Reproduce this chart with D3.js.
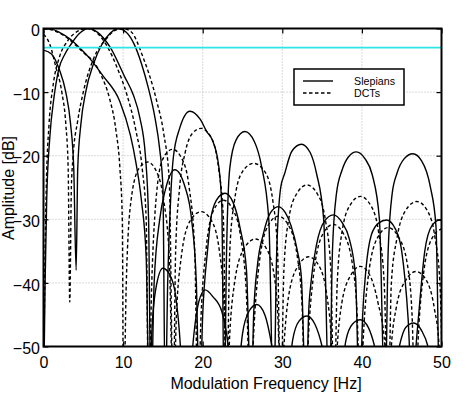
<!DOCTYPE html>
<meta charset="utf-8">
<script src="https://d3js.org/d3.v7.min.js"></script>
<style>
body { margin: 0; background: #fff; }
text { font-family: Arial, "Liberation Sans", Helvetica, sans-serif; fill: #000; }
</style>
<div id="my_dataviz"></div>
<script>

// frequency responses, [frequency Hz, amplitude dB]
var slepian0 = [[0,0],[1,-0.1],[2,-0.6],[3.5,-1.8],[4.5,-3],[5.8,-4.7],[7.5,-7.5],[9.6,-11.5],[10.9,-16.7],[11.6,-21],[12.3,-27],[12.9,-36],[13.3,-60],
  [13.6,-48],[14.1,-41],[15,-37.7],[15.9,-38.8],[16.6,-42],[17.2,-50],[17.6,-60],
  [18.4,-55],[18.9,-48],[19.5,-43],[20.3,-41.1],[21.3,-42.2],[22.4,-44.5],[23.2,-50],[23.8,-60],
  [24.4,-55],[25,-48],[25.8,-44.5],[26.8,-43.4],[27.8,-45],[28.7,-50],[29.8,-60],
  [30.7,-55],[31.3,-49],[32.1,-46],[33.1,-45.2],[34.1,-46.5],[35,-50],[36.3,-60],
  [37.3,-55],[38,-49],[38.8,-46.5],[39.8,-45.8],[40.8,-47],[41.6,-50],[43,-60],
  [44,-55],[44.7,-50],[45.5,-47],[46.5,-46.3],[47.5,-47.5],[48.3,-50],[49.5,-60]];

var slepian1 = [[0,-60],[0.2,-40],[0.4,-27],[0.8,-17],[1.3,-11],[1.9,-6.5],[2.7,-4],[3.5,-2.4],[4.5,-0.8],[5.6,0],[6.8,-0.6],[8.35,-2.9],[10.2,-7.6],[11.3,-10.5],[12.1,-14],[12.8,-20],[13.2,-30],[13.5,-60],
  [13.9,-40],[14.6,-30],[15.3,-25.4],[16.5,-22.2],[17.8,-25],[18.6,-30],[19.2,-40],[19.6,-60],
  [20,-45],[20.6,-35],[21.1,-29.3],[22,-26.5],[22.8,-25.9],[23.8,-27.3],[24.7,-31.4],[25.5,-38],[26.1,-60],
  [26.4,-45],[26.9,-37],[27.6,-32.4],[28.5,-29],[29.5,-28],[30.4,-29],[31.1,-31],[31.9,-35],[32.4,-39.2],[33,-60],
  [33.3,-45],[33.6,-40],[34.3,-34],[35.3,-30.3],[36.4,-29.3],[37.5,-30.5],[38.4,-33],[39.2,-39],[39.7,-60],
  [40.1,-45],[40.5,-38],[41.2,-32.4],[42.1,-30.6],[43.1,-30.1],[44.2,-31.5],[45,-35],[45.8,-45.5],[46.4,-60],
  [46.8,-50],[47.1,-45.5],[47.9,-35],[48.8,-31],[49.8,-30.1],[50.5,-31]];

var slepian2 = [[0,-3.4],[1,-4],[2,-6.5],[2.8,-10],[3.4,-15],[3.8,-22],[4.1,-38],[4.3,-22],[4.7,-15],[5.3,-10],[6.3,-5.5],[7.3,-2.6],[8.4,-0.7],[9.4,0],[10.4,-0.6],[11.4,-2.5],[12.3,-5.5],[13.2,-9.5],[14,-14],[14.6,-19],[15,-25],[15.3,-60],
  [15.6,-40],[16,-26],[16.3,-20.4],[17.1,-15.7],[18.4,-13],[19.7,-14.3],[20.5,-16.2],[21.2,-17.5],[22,-21.5],[22.4,-28],[22.7,-60],
  [23,-35],[23.4,-22],[24.2,-17.5],[25.3,-16.2],[26.5,-17.8],[27.4,-21.7],[28.3,-30],[28.9,-60],
  [29.3,-35],[29.8,-25],[30.3,-22.8],[31.2,-19.3],[32.4,-18.2],[33.5,-19.5],[34.3,-22.8],[35.2,-30],[35.9,-60],
  [36.3,-35],[36.8,-26],[37.5,-22.3],[38.3,-20.2],[39.3,-19.4],[40.4,-20.5],[41.3,-23],[42.2,-30],[42.9,-60],
  [43.3,-35],[43.8,-26],[44.4,-22.8],[45.3,-20.5],[46.4,-19.7],[47.5,-20.8],[48.6,-24.9],[49.3,-31],[49.7,-60]];

var dct0 = [[0,0],[1,-0.2],[2,-0.7],[3,-1.5],[4.2,-2.8],[5.2,-4],[6.3,-5.2],[7.3,-7.5],[8.3,-11],[9.1,-16],[9.6,-22],[9.9,-30],[10.05,-60],
  [10.4,-40],[11,-27],[12,-22],[13.1,-21],[14.2,-22.5],[15.1,-27],[15.8,-36],[16.3,-60],
  [16.7,-45],[17.3,-36],[18.4,-30.3],[19.8,-28.8],[21.1,-30.2],[22.1,-35],[22.7,-44],[23,-60],
  [23.4,-48],[24,-40],[25.2,-34.6],[26.6,-33.1],[28,-34.6],[29,-39],[29.5,-47],[29.8,-60],
  [30.2,-50],[30.8,-42],[32,-37.3],[33.3,-35.9],[34.6,-37.3],[35.6,-42],[36.2,-50],[36.5,-60],
  [36.9,-50],[37.5,-43],[38.6,-38.8],[39.8,-37.4],[41,-38.8],[42,-43],[42.9,-50],[43.3,-60],
  [43.7,-50],[44.3,-44],[45.5,-39.6],[46.8,-38.2],[48.1,-39.6],[49.1,-44],[49.7,-50],[50,-60]];

var dct1 = [[0,-60],[0.15,-40],[0.35,-25],[0.7,-15],[1.2,-9],[2,-4.5],[3,-2],[4.2,-0.5],[5.5,0],[6.8,-0.8],[8,-2.8],[9.2,-6],[10.5,-10.5],[11.6,-16],[12.4,-22],[12.9,-30],[13.2,-60],
  [13.6,-40],[14.2,-26],[15,-20.5],[16.2,-19],[17.4,-20.5],[18.3,-25],[19,-35],[19.4,-60],
  [19.8,-45],[20.4,-35],[21.4,-28.5],[22.6,-27],[23.8,-28.5],[24.8,-33],[25.5,-42],[26,-60],
  [26.4,-48],[27,-38],[28.2,-31],[29.5,-29.5],[30.8,-31],[31.9,-36],[32.5,-44],[32.9,-60],
  [33.3,-48],[33.9,-39],[35.1,-32.3],[36.4,-30.8],[37.7,-32.3],[38.8,-37],[39.4,-45],[39.8,-60],
  [40.2,-48],[40.8,-39],[42,-32.8],[43.3,-31.3],[44.6,-32.8],[45.7,-37],[46.3,-45],[46.7,-60],
  [47.1,-48],[47.7,-39],[48.8,-33],[50,-31.5]];

var dct2 = [[0,-0.9],[0.8,-2.5],[1.5,-5.8],[2.3,-10],[2.8,-15],[3.1,-22],[3.3,-43],[3.5,-25],[3.7,-20.4],[4.3,-14.5],[5,-10],[6.3,-4.7],[7.9,-1.6],[9,-0.3],[10,0],[11,-0.5],[12.5,-4.5],[14.2,-11.3],[15.1,-16.5],[15.8,-24],[16.3,-60],
  [16.6,-35],[17.1,-25],[17.8,-19.5],[18.7,-16.5],[19.8,-15.7],[21,-17],[22,-22],[22.6,-30],[23,-60],
  [23.4,-35],[24,-27],[25,-22.5],[26.4,-21.2],[27.8,-22.5],[28.8,-27],[29.4,-35],[29.8,-60],
  [30.2,-38],[30.8,-30],[31.8,-26],[33.1,-24.6],[34.4,-26],[35.4,-30],[36.1,-38],[36.5,-60],
  [36.9,-40],[37.5,-32],[38.5,-27.8],[39.8,-26.4],[41.1,-27.8],[42.1,-32],[42.8,-40],[43.3,-60],
  [43.7,-40],[44.4,-33],[45.5,-28.6],[46.9,-27.2],[48.2,-28.6],[49.2,-33],[49.8,-40],[50.2,-60]];

var xTicks = [0, 10, 20, 30, 40, 50];
var yTicks = [-50, -40, -30, -20, -10, 0];
var cutoffDb = -3;
var legendLabels = ["Slepians", "DCTs"];

var margin = {top: 28.5, right: 32.5, bottom: 48.5, left: 43.5},
    width = 474 - margin.left - margin.right,
    height = 395 - margin.top - margin.bottom;

var svg = d3.select("#my_dataviz")
  .append("svg")
    .attr("width", 474)
    .attr("height", 395)
  .append("g")
    .attr("transform", "translate(" + margin.left + "," + margin.top + ")");

var x = d3.scaleLinear().domain([0, 50]).range([0, width]);
var y = d3.scaleLinear().domain([-50, 0]).range([height, 0]);

svg.append("clipPath").attr("id", "plotclip")
  .append("rect").attr("width", width).attr("height", height);

// dotted grid
svg.selectAll(".vgrid").data(xTicks.slice(1, -1)).enter().append("line")
  .attr("x1", function(d){ return x(d); }).attr("x2", function(d){ return x(d); })
  .attr("y1", 0).attr("y2", height)
  .attr("stroke", "#b4b4b4").attr("stroke-dasharray", "1,2");
svg.selectAll(".hgrid").data(yTicks.slice(1, -1)).enter().append("line")
  .attr("y1", function(d){ return y(d); }).attr("y2", function(d){ return y(d); })
  .attr("x1", 0).attr("x2", width)
  .attr("stroke", "#b4b4b4").attr("stroke-dasharray", "1,2");

// curves
var line = d3.line()
  .x(function(d){ return x(d[0]); })
  .y(function(d){ return y(d[1]); })
  .curve(d3.curveMonotoneX);

var curves = [
  {data: slepian0, dash: null}, {data: slepian1, dash: null}, {data: slepian2, dash: null},
  {data: dct0, dash: "3.5,2.5"}, {data: dct1, dash: "3.5,2.5"}, {data: dct2, dash: "3.5,2.5"}
];
var plot = svg.append("g").attr("clip-path", "url(#plotclip)");
plot.selectAll(".curve").data(curves).enter().append("path")
  .attr("d", function(d){ return line(d.data); })
  .attr("fill", "none")
  .attr("stroke", "#000")
  .attr("stroke-width", 1.4)
  .attr("stroke-dasharray", function(d){ return d.dash; });

// -3 dB line
plot.append("line")
  .attr("x1", 0).attr("x2", width)
  .attr("y1", y(cutoffDb)).attr("y2", y(cutoffDb))
  .attr("stroke", "#2ee6e6").attr("stroke-width", 1.6);

// axes, ticks inside
var xAxis = svg.append("g")
  .attr("transform", "translate(0," + height + ")")
  .call(d3.axisBottom(x).tickValues(xTicks).tickSizeInner(-5).tickSizeOuter(0).tickPadding(10));
var yAxis = svg.append("g")
  .call(d3.axisLeft(y).tickValues(yTicks).tickSizeInner(-5).tickSizeOuter(0).tickPadding(3.5));
svg.append("g")
  .call(d3.axisTop(x).tickValues(xTicks).tickSizeInner(-5).tickSizeOuter(0).tickFormat(""));
svg.append("g")
  .attr("transform", "translate(" + width + ",0)")
  .call(d3.axisRight(y).tickValues(yTicks).tickSizeInner(-5).tickSizeOuter(0).tickFormat(""));

svg.selectAll(".domain").remove();
svg.selectAll(".tick line").attr("stroke", "#000").attr("stroke-width", 1.2);
svg.selectAll(".tick text").attr("font-size", 16).attr("font-family", "Arial, 'Liberation Sans', sans-serif");
yAxis.selectAll(".tick text").attr("dy", "0.45em");

svg.append("rect")
  .attr("width", width).attr("height", height)
  .attr("fill", "none").attr("stroke", "#000").attr("stroke-width", 2);

// axis labels
svg.append("text")
  .attr("x", 266 - margin.left).attr("y", 389 - margin.top)
  .attr("text-anchor", "middle").attr("font-size", 16)
  .text("Modulation Frequency [Hz]");
svg.append("text")
  .attr("transform", "translate(" + (13.5 - margin.left) + "," + (188 - margin.top) + ") rotate(-90)")
  .attr("text-anchor", "middle").attr("font-size", 16)
  .text("Amplitude [dB]");

// legend
var legend = svg.append("g").attr("transform", "translate(" + (294 - margin.left) + "," + (69 - margin.top) + ")");
legend.append("rect").attr("width", 110).attr("height", 36)
  .attr("fill", "#fff").attr("stroke", "#000").attr("stroke-width", 1.5);
legend.selectAll(".lline").data(legendLabels).enter().append("line")
  .attr("x1", 9).attr("x2", 39)
  .attr("y1", function(d, i){ return 12 + i * 12; })
  .attr("y2", function(d, i){ return 12 + i * 12; })
  .attr("stroke", "#000").attr("stroke-width", 1.4)
  .attr("stroke-dasharray", function(d, i){ return i ? "3.5,2.5" : null; });
legend.selectAll(".ltext").data(legendLabels).enter().append("text")
  .attr("x", 60)
  .attr("y", function(d, i){ return 16 + i * 12; })
  .attr("font-size", 10.5)
  .attr("textLength", function(d, i){ return i ? 26 : 41; })
  .attr("lengthAdjust", "spacingAndGlyphs")
  .text(function(d){ return d; });

</script>
